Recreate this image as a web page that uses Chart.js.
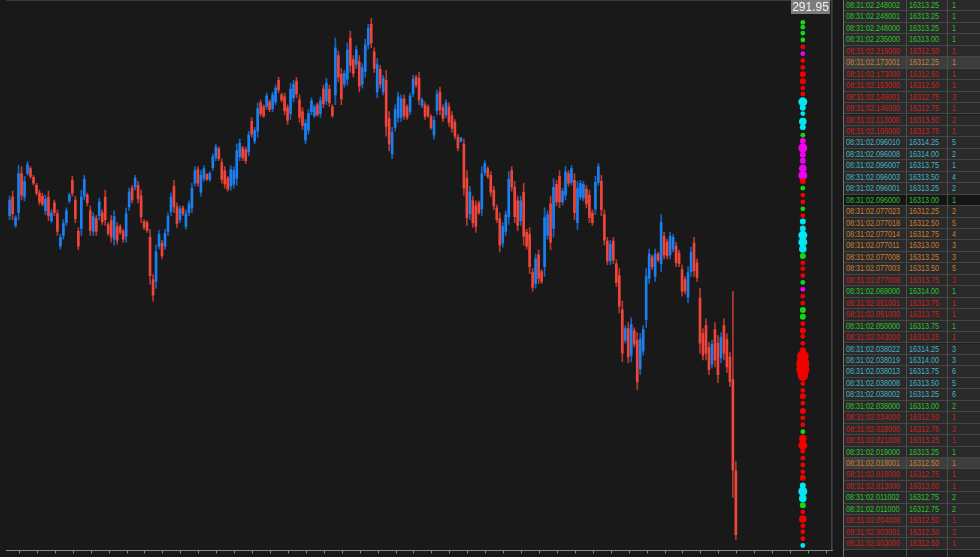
<!DOCTYPE html>
<html><head><meta charset="utf-8">
<script src="https://cdn.jsdelivr.net/npm/chart.js@4.4.1/dist/chart.umd.min.js"></script>
<style>
html,body{margin:0;padding:0;background:#191919;width:980px;height:557px;overflow:hidden;font-family:"Liberation Sans",Arial,sans-serif;}
#chartBox{position:absolute;left:0;top:0;width:839px;height:557px;}
#lastLbl{position:absolute;left:791px;top:0;width:39px;height:14px;background:#7c7c7c;color:#f2f2f2;font-size:12px;line-height:14px;text-align:center;z-index:2;}
#tape{position:absolute;left:843px;top:0;width:137px;height:557px;background:#1d1d1d;border-left:1px solid #707070;box-sizing:border-box;}
.row{position:absolute;left:0;width:136px;box-sizing:border-box;border-bottom:1px solid #454545;background:#2a2a2a;}
.c{position:absolute;top:0;font-size:9px;white-space:nowrap;transform:scaleX(0.8);transform-origin:0 50%;}
.vl{position:absolute;top:0;bottom:0;width:1px;background:#4c4c4c;}
</style></head>
<body>
<div id="chartBox"><canvas id="c" width="839" height="557"></canvas></div>
<div id="lastLbl"></div>
<div id="tape"></div>
<script>
// ---- Candles (price offsets in ticks) ----
const opens=[787,806,777,790,830,806,830,835,826,818,810,807,792,806,782,800,789,756,767,780,
802,823,803,771,774,807,808,792,771,784,787,790,806,778,782,763,776,776,771,766,
796,815,816,818,807,781,780,765,722,720,756,759,756,771,791,817,796,783,795,776,
790,795,820,834,811,825,829,824,836,846,855,841,833,825,817,819,825,847,856,854,
852,883,863,873,902,898,898,903,896,903,925,910,908,897,891,907,924,905,893,864,
874,893,889,900,891,916,904,916,898,910,950,931,921,926,968,946,941,944,921,934,
961,982,954,913,936,913,925,886,850,877,887,887,906,898,893,911,928,927,899,900,
898,888,869,894,913,897,890,898,889,882,867,863,860,825,789,802,797,800,794,831,
835,828,813,795,784,759,771,786,833,816,802,782,811,770,768,729,718,747,730,735,
767,799,774,819,827,801,808,830,821,823,780,806,805,814,808,790,794,821,822,788,
761,741,761,738,726,691,660,672,645,670,660,631,649,681,723,745,725,748,738,766,
760,747,753,756,749,732,722,704,730,759,739,703,667,675,653,636,671,657,642,675,
661,643,620,527];
const highs=[807,812,787,838,837,827,842,837,828,820,813,810,808,812,793,803,793,768,783,795,
810,827,807,775,813,828,810,797,790,787,805,793,813,780,787,792,780,778,773,795,
815,818,828,822,813,783,782,773,727,757,772,762,773,790,810,823,800,797,797,793,
802,820,837,837,833,838,830,832,850,860,857,845,837,827,838,837,860,865,858,857,
873,887,877,902,905,900,912,905,913,920,928,912,912,900,922,925,928,910,897,885,
895,907,900,902,908,920,927,920,900,968,955,937,935,963,975,950,960,950,942,967,
982,988,958,947,940,930,935,893,877,900,913,910,910,900,912,930,930,933,907,903,
900,890,888,915,918,900,905,902,893,885,870,867,865,833,817,807,802,802,837,843,
837,832,817,798,790,780,792,832,837,822,807,807,820,773,775,733,748,752,732,795,
792,807,825,823,833,815,837,833,838,830,822,823,822,818,813,793,827,840,828,793,
765,762,765,742,733,700,675,678,683,673,668,667,675,733,753,747,753,750,788,770,
763,770,768,760,752,737,725,735,755,765,743,713,672,682,658,660,678,665,668,682,
667,648,710,537];
const lows=[783,783,775,783,803,802,828,825,818,808,798,797,788,782,780,787,767,753,763,777,
800,807,780,752,767,803,797,767,767,767,783,778,777,767,760,757,758,768,760,760,
792,800,813,800,780,773,770,717,700,713,753,743,753,767,787,790,775,780,787,773,
787,790,817,817,807,822,823,822,833,843,843,820,815,812,813,815,818,843,843,840,
848,867,860,867,888,887,895,893,893,900,912,903,890,880,885,903,907,882,875,860,
870,890,887,888,887,897,900,898,887,900,923,900,918,920,933,928,937,913,917,928,
957,958,933,907,917,910,868,853,845,873,882,883,885,885,890,908,918,900,897,885,
887,875,865,890,890,883,887,878,872,865,853,862,808,777,783,775,770,788,787,828,
825,807,793,780,750,755,767,778,812,780,772,777,757,753,728,710,713,718,718,725,
763,752,765,797,795,798,803,817,818,783,773,803,802,795,780,777,788,818,787,757,
737,737,738,715,688,638,657,637,638,653,610,625,645,673,718,732,720,740,730,743,
743,743,750,735,735,705,707,698,725,725,720,647,640,640,625,632,633,617,637,640,
627,613,500,457];
const closes=[803,789,785,830,808,822,839,827,820,810,801,799,804,787,790,790,771,765,779,792,
808,810,784,756,806,824,800,772,786,771,801,781,783,769,765,786,762,770,763,789,
811,803,825,804,786,775,772,726,706,750,768,746,769,786,806,796,779,794,789,789,
799,815,833,820,828,835,824,830,847,857,845,824,819,814,834,833,853,861,846,843,
869,870,874,896,891,889,909,895,910,917,915,905,894,884,916,921,911,887,879,881,
891,904,898,890,904,901,922,902,889,958,928,906,932,956,940,932,956,919,938,961,
978,963,937,941,921,927,878,860,872,895,908,906,889,887,909,926,920,905,905,888,
889,877,884,911,895,886,902,882,876,868,856,866,815,785,811,780,776,790,830,840,
827,811,797,783,757,776,788,824,816,786,777,802,766,756,735,714,743,723,720,785,
788,760,816,801,801,812,832,820,835,790,815,820,819,799,785,780,821,837,793,762,
741,758,742,719,695,647,672,643,676,656,618,661,671,725,748,735,748,742,780,747,
746,766,765,739,738,710,710,729,750,731,724,657,645,647,630,656,640,625,663,647,
633,618,528,462];

// ---- Trade dots column (price-offset ticks, trade size, side) ----
const dotLevels=[984,979,973,966,959,952,945,938,931,924,917,911,903,897,891,883,877,869,863,856,
849,843,835,828,822,815,808,801,794,787,781,774,767,760,753,746,739,733,726,719,
712,705,698,691,684,677,670,664,657,650,644,637,630,624,616,609,603,596,588,581,
574,567,560,553,547,540,533,526,520,512,506,499,492,485,478,471,465,458,451];
const dotSizes=[1,1,1,1,1,1,1,1,2,2,1,1,4,2,1,3,2,1,2,4,
2,2,3,4,2,1,1,1,1,1,2,2,4,4,3,2,1,1,1,1,
1,1,1,2,2,1,2,1,1,2,6,8,8,5,1,1,2,1,2,1,
1,1,3,4,1,1,1,1,2,2,4,3,2,1,3,1,1,1,1];
const dotSides=["g","g","g","g","r","m","r","r","r","r","r","r","c","c","c","c","c","g","m","m",
"m","m","m","m","r","g","r","r","g","r","c","c","c","c","c","g","r","r","r","g",
"m","r","r","g","g","r","r","r","r","r","r","r","r","r","r","r","r","r","r","r",
"r","g","r","r","r","r","r","r","r","c","c","c","g","r","r","r","r","r","c"];
const lastValue="291.95";

// ---- Time & sales tape ----
const tapeTimes=["08:31:02.248002","08:31:02.248001","08:31:02.248000","08:31:02.235000","08:31:02.219000","08:31:02.173001","08:31:02.173000","08:31:02.153000","08:31:02.146001","08:31:02.146000","08:31:02.113000","08:31:02.106000",
"08:31:02.096010","08:31:02.096008","08:31:02.096007","08:31:02.096003","08:31:02.096001","08:31:02.096000","08:31:02.077023","08:31:02.077018","08:31:02.077014","08:31:02.077011","08:31:02.077008","08:31:02.077003",
"08:31:02.077000","08:31:02.069000","08:31:02.051001","08:31:02.051000","08:31:02.050000","08:31:02.043000","08:31:02.038022","08:31:02.038019","08:31:02.038013","08:31:02.038008","08:31:02.038002","08:31:02.038000",
"08:31:02.034000","08:31:02.028000","08:31:02.021000","08:31:02.019000","08:31:02.018001","08:31:02.018000","08:31:02.013000","08:31:02.011002","08:31:02.011000","08:31:02.004000","08:31:02.003001","08:31:02.003000"];
const tapePrices=["16313.25","16313.25","16313.25","16313.00","16312.50","16312.25","16312.50","16312.50","16312.75","16312.75","16313.50","16313.75",
"16314.25","16314.00","16313.75","16313.50","16313.25","16313.00","16312.25","16312.50","16312.75","16313.00","16313.25","16313.50",
"16313.75","16314.00","16313.75","16313.75","16313.75","16313.25","16314.25","16314.00","16313.75","16313.50","16313.25","16313.00",
"16312.50","16312.75","16313.25","16313.25","16312.50","16312.75","16313.00","16312.75","16312.75","16312.50","16312.50","16312.50"];
const tapeSizes=[1,1,1,1,1,1,1,1,3,1,2,1, 5,2,1,4,2,1,2,5,4,3,3,5, 3,1,1,1,1,1,3,3,6,5,6,2, 1,2,1,1,1,1,1,2,2,1,2,1];
const tapeSides=["g","g","g","g","r","o","r","r","r","r","r","r",
"c","c","c","c","c","g","o","o","o","o","o","o",
"r","g","r","r","g","r","c","c","c","c","c","g",
"r","r","r","g","o","r","r","g","g","r","r","r"];
const tapeMarks=["","","","","","hl","","","","","","",
"","","","","","dk","","","","","","",
"","","","","","","","","","","","",
"","","","","hl","","","","","","",""];

// ---- styles ----
const UP="#1b7ff0", DOWN="#f0453a", UPW="#1563c4", DOWNW="#b73930";
const DOTC={g:"#14d814",r:"#f20000",m:"#f000f0",c:"#00e6f2"};
const TXTC={g:"#2bc22b",r:"#cc2020",o:"#cc7e30",c:"#42b4c4"};
const RAD={1:2.4,2:3.0,3:3.8,4:4.5,5:5.2,6:5.8,8:6.6};
const DOT_X=265.4;

const isUp=opens.map((o,i)=>closes[i]>=o);
const wickData=highs.map((h,i)=>({x:i,y:[lows[i],h]}));
const bodyData=opens.map((o,i)=>({x:i,y:[o,closes[i]]}));
const dotData=dotLevels.map(v=>({x:DOT_X,y:v}));

const tickVals=[];for(let t=3.3;t<=275;t+=6)tickVals.push(t);

const frame={id:'frame',afterDraw(c){const {ctx,chartArea:a}=c;ctx.save();ctx.lineWidth=1;
ctx.strokeStyle='#3a3a3a';ctx.beginPath();ctx.moveTo(a.left,0.5);ctx.lineTo(a.right,0.5);ctx.stroke();
ctx.strokeStyle='#5e5e5e';ctx.beginPath();ctx.moveTo(a.right-0.5,0);ctx.lineTo(a.right-0.5,a.bottom);ctx.stroke();ctx.restore();}};

new Chart(document.getElementById('c'),{
  type:'bar',
  data:{datasets:[
    {type:'scatter',data:dotData,order:0,pointRadius:dotSizes.map(s=>RAD[s]),pointBackgroundColor:dotSides.map(s=>DOTC[s]),pointBorderWidth:0,pointHoverRadius:0},
    {label:'body',data:bodyData,order:1,grouped:false,barThickness:2,borderWidth:0,backgroundColor:isUp.map(u=>u?UP:DOWN)},
    {label:'wick',data:wickData,order:2,grouped:false,barThickness:1,borderWidth:0,backgroundColor:isUp.map(u=>u?UPW:DOWNW)}
  ]},
  options:{responsive:false,animation:false,devicePixelRatio:1,layout:{padding:0},
    plugins:{legend:{display:false},tooltip:{enabled:false}},
    scales:{
      x:{type:'linear',min:-1,max:275.3,offset:false,
         afterBuildTicks:s=>{s.ticks=tickVals.map(v=>({value:v}));},
         ticks:{display:false},
         grid:{offset:false,drawOnChartArea:false,drawTicks:true,tickLength:3,color:'#8a8a8a'},
         border:{display:true,color:'#8a8a8a'}},
      y:{display:false,min:446,max:1000}
    }},
  plugins:[frame]
});

document.getElementById('lastLbl').textContent=lastValue;

// build tape
const tape=document.getElementById('tape');
const RH=11.45;
tapeTimes.forEach((t,i)=>{
  const r=document.createElement('div');r.className='row';
  r.style.top=(i*RH)+'px';r.style.height=RH+'px';
  if(tapeMarks[i]==='hl')r.style.background='#3e3e3e';
  if(tapeMarks[i]==='dk')r.style.background='#151515';
  const col=TXTC[tapeSides[i]];
  [[t,2],[tapePrices[i],65],[String(tapeSizes[i]),108]].forEach(([txt,l])=>{
    const s=document.createElement('span');s.className='c';s.textContent=txt;
    s.style.left=l+'px';s.style.color=col;s.style.lineHeight=(RH-1)+'px';
    r.appendChild(s);
  });
  tape.appendChild(r);
});
[62,103].forEach(l=>{const v=document.createElement('div');v.className='vl';v.style.left=l+'px';tape.appendChild(v);});
</script>
</body></html>
